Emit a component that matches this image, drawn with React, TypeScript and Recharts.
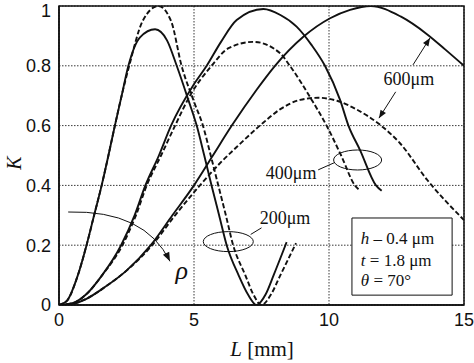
import React from "react";
import {
  LineChart,
  Line,
  XAxis,
  YAxis,
  CartesianGrid,
  ReferenceArea,
  ReferenceDot,
  ReferenceLine,
} from "recharts";

// ---- data (x = L [mm], y = K) ----
const xTicks = [0, 5, 10, 15];
const yTicks = [0, 0.2, 0.4, 0.6, 0.8, 1];

const k200Solid: [number, number][] = [
  [0, 0], [0.3, 0.015], [0.7, 0.1], [1.02, 0.2], [1.3, 0.3], [1.58, 0.4], [1.83, 0.5],
  [2.07, 0.6], [2.32, 0.7], [2.57, 0.8], [3.0, 0.895], [3.56, 0.922], [4.0, 0.885],
  [4.36, 0.8], [4.79, 0.686], [5.1, 0.6], [5.38, 0.5], [5.65, 0.4], [5.93, 0.3],
  [6.21, 0.2], [6.65, 0.1], [7.0, 0.035], [7.32, 0], [7.65, 0.035], [7.95, 0.1], [8.43, 0.21],
];
const k200Dashed: [number, number][] = [
  [0, 0], [0.3, 0.015], [0.7, 0.1], [1.02, 0.2], [1.3, 0.3], [1.58, 0.4], [1.83, 0.5],
  [2.07, 0.6], [2.32, 0.7], [2.6, 0.8], [3.1, 0.95], [3.68, 1.0], [4.15, 0.95],
  [4.54, 0.8], [5.0, 0.68], [5.33, 0.6], [5.62, 0.5], [5.9, 0.4], [6.18, 0.3],
  [6.45, 0.2], [6.9, 0.1], [7.2, 0.035], [7.5, 0], [7.85, 0.035], [8.2, 0.1], [8.78, 0.207],
];
const k400Solid: [number, number][] = [
  [0, 0], [0.5, 0.006], [1.0, 0.035], [1.6, 0.1], [2.3, 0.2], [2.8, 0.3], [3.2, 0.4],
  [3.7, 0.5], [4.15, 0.6], [4.98, 0.736], [5.47, 0.8], [6.0, 0.88], [6.58, 0.953],
  [7.57, 0.99], [8.2, 0.97], [8.8, 0.931], [9.35, 0.87], [9.85, 0.8], [10.41, 0.686],
  [10.72, 0.6], [11.15, 0.518], [11.74, 0.4], [11.95, 0.382],
];
const k400Dashed: [number, number][] = [
  [0, 0], [0.5, 0.006], [1.0, 0.035], [1.6, 0.1], [2.35, 0.2], [2.85, 0.3], [3.25, 0.4],
  [3.78, 0.5], [4.3, 0.6], [4.85, 0.7], [5.65, 0.8], [6.3, 0.86], [7.2, 0.88],
  [8.19, 0.842], [8.55, 0.8], [9.36, 0.686], [9.91, 0.6], [10.45, 0.5], [10.96, 0.4], [11.12, 0.385],
];
const k600Solid: [number, number][] = [
  [0, 0], [0.5, 0.004], [1.0, 0.02], [1.7, 0.06], [2.5, 0.115], [3.4, 0.2], [4.2, 0.3],
  [5.0, 0.4], [5.7, 0.5], [6.4, 0.6], [7.32, 0.72], [8.0, 0.8], [9.05, 0.897],
  [10.04, 0.959], [10.78, 0.987], [11.55, 1.0], [12.65, 0.965], [13.64, 0.905],
  [14.3, 0.855], [15, 0.8],
];
const k600Dashed: [number, number][] = [
  [0, 0], [0.5, 0.004], [1.0, 0.02], [1.7, 0.06], [2.5, 0.115], [3.45, 0.2], [4.3, 0.3],
  [5.22, 0.4], [5.96, 0.474], [6.6, 0.53], [7.44, 0.6], [8.2, 0.655], [8.93, 0.686],
  [9.6, 0.693], [10.3, 0.683], [11.0, 0.655], [11.9, 0.602], [12.63, 0.541],
  [13.64, 0.418], [15, 0.284],
];

const toRows = (pts: [number, number][]) => pts.map(([x, y]) => ({ x, y }));

const series = [
  { name: "200 solid", pts: k200Solid, dash: undefined },
  { name: "200 dashed", pts: k200Dashed, dash: "5 2.5" },
  { name: "400 solid", pts: k400Solid, dash: undefined },
  { name: "400 dashed", pts: k400Dashed, dash: "5 2.5" },
  { name: "600 solid", pts: k600Solid, dash: undefined },
  { name: "600 dashed", pts: k600Dashed, dash: "5 2.5" },
];

const INK = "#111";
const SERIF = "'Liberation Serif', 'Times New Roman', serif";
const SANS = "'Liberation Sans', Arial, sans-serif";

const arrowHead = (x1: number, y1: number, x2: number, y2: number, len = 8, hw = 3.2) => {
  const dx = x2 - x1;
  const dy = y2 - y1;
  const d = Math.hypot(dx, dy) || 1;
  const ux = dx / d;
  const uy = dy / d;
  const bx = x2 - ux * len;
  const by = y2 - uy * len;
  return `${x2},${y2} ${bx - uy * hw},${by + ux * hw} ${bx + uy * hw},${by - ux * hw}`;
};

const ArrowShape = (props: any) => {
  const { x1, y1, x2, y2 } = props;
  if ([x1, y1, x2, y2].some((v) => v == null || isNaN(v))) return null;
  return (
    <g>
      <line x1={x1} y1={y1} x2={x2} y2={y2} stroke={INK} strokeWidth={1} />
      <polygon points={arrowHead(x1, y1, x2, y2)} fill={INK} />
    </g>
  );
};

const LeaderShape = (props: any) => {
  const { x1, y1, x2, y2 } = props;
  if ([x1, y1, x2, y2].some((v) => v == null || isNaN(v))) return null;
  return <line x1={x1} y1={y1} x2={x2} y2={y2} stroke={INK} strokeWidth={1} />;
};

const RhoArc = (props: any) => {
  const { x1, y1, x2, y2 } = props;
  if ([x1, y1, x2, y2].some((v) => v == null || isNaN(v))) return null;
  const cx = x1 + 0.755 * (x2 - x1);
  const cy = y1 - 2;
  return (
    <g>
      <path d={`M${x1},${y1} Q${cx},${cy} ${x2},${y2}`} fill="none" stroke={INK} strokeWidth={1} />
      <polygon points={arrowHead(cx, cy, x2, y2, 9, 3.5)} fill={INK} />
    </g>
  );
};

const ellipseShape = (rx: number, ry: number) => (props: any) => {
  const { cx, cy } = props;
  if (cx == null || cy == null) return null;
  return <ellipse cx={cx} cy={cy} rx={rx} ry={ry} fill="none" stroke={INK} strokeWidth={1} />;
};

const textShape = (content: React.ReactNode, size: number, italic = false, anchor: "start" | "middle" = "middle") => (props: any) => {
  const { cx, cy } = props;
  if (cx == null || cy == null) return null;
  return (
    <text
      x={cx}
      y={cy}
      textAnchor={anchor}
      dominantBaseline="central"
      fontFamily={SERIF}
      fontSize={size}
      fontStyle={italic ? "italic" : "normal"}
      fill={INK}
    >
      {content}
    </text>
  );
};

export default function App() {
  return (
    <div style={{ position: "absolute", left: 0, top: 0, width: 474, height: 363, background: "#fff" }}>
      <LineChart width={474} height={363} margin={{ top: 6, right: 10, left: 0, bottom: 0 }}>
        <CartesianGrid stroke="#222" strokeDasharray="1.5 1.5" strokeWidth={0.9} />
        <XAxis
          type="number"
          dataKey="x"
          domain={[0, 15]}
          ticks={xTicks}
          allowDataOverflow
          height={58}
          tickLine={false}
          axisLine={{ stroke: INK, strokeWidth: 1.5 }}
          tick={{ fill: INK, fontSize: 18, fontFamily: SANS }}
          tickFormatter={(v: number) => String(v)}
        />
        <YAxis
          type="number"
          dataKey="y"
          domain={[0, 1]}
          ticks={yTicks}
          allowDataOverflow
          width={59}
          tickLine={false}
          axisLine={{ stroke: INK, strokeWidth: 1.5 }}
          tick={{ fill: INK, fontSize: 18, fontFamily: SANS }}
          tickFormatter={(v: number) => String(v)}
        />
        {/* frame */}
        <ReferenceArea x1={0} x2={15} y1={0} y2={1} fill="none" stroke={INK} strokeWidth={1.5} ifOverflow="visible" />

        {series.map((s) => (
          <Line
            key={s.name}
            data={toRows(s.pts)}
            dataKey="y"
            type="monotone"
            stroke={INK}
            strokeWidth={1.9}
            strokeDasharray={s.dash}
            dot={false}
            activeDot={false}
            isAnimationActive={false}
          />
        ))}

        {/* 600 µm annotation */}
        <ReferenceDot x={12.96} y={0.757} r={1} shape={textShape("600μm", 18)} />
        <ReferenceLine segment={[{ x: 13.11, y: 0.803 }, { x: 13.74, y: 0.893 }]} shape={ArrowShape} ifOverflow="visible" />
        <ReferenceLine segment={[{ x: 12.47, y: 0.713 }, { x: 11.85, y: 0.625 }]} shape={ArrowShape} ifOverflow="visible" />

        {/* 400 µm annotation */}
        <ReferenceDot x={8.6} y={0.44} r={1} shape={textShape("400μm", 18)} />
        <ReferenceLine segment={[{ x: 9.6, y: 0.452 }, { x: 10.2, y: 0.476 }]} shape={LeaderShape} ifOverflow="visible" />
        <ReferenceDot x={11.06} y={0.485} r={1} shape={ellipseShape(24, 10)} />

        {/* 200 µm annotation */}
        <ReferenceDot x={8.37} y={0.29} r={1} shape={textShape("200μm", 18)} />
        <ReferenceLine segment={[{ x: 7.5, y: 0.258 }, { x: 7.1, y: 0.236 }]} shape={LeaderShape} ifOverflow="visible" />
        <ReferenceDot x={6.27} y={0.212} r={1} shape={ellipseShape(25, 10)} />

        {/* rho arrow */}
        <ReferenceLine segment={[{ x: 0.34, y: 0.311 }, { x: 4.11, y: 0.146 }]} shape={RhoArc} ifOverflow="visible" />
        <ReferenceDot x={4.55} y={0.115} r={1} shape={textShape("ρ", 26, true)} />

        {/* parameter box */}
        <ReferenceArea x1={10.85} x2={14.56} y1={0.033} y2={0.291} fill="#fff" fillOpacity={1} stroke={INK} strokeWidth={1} />
        <ReferenceDot
          x={11.18}
          y={0.225}
          r={1}
          shape={textShape(
            <>
              <tspan fontStyle="italic">h</tspan>
              <tspan> – 0.4 μm</tspan>
            </>,
            17,
            false,
            "start"
          )}
        />
        <ReferenceDot
          x={11.18}
          y={0.152}
          r={1}
          shape={textShape(
            <>
              <tspan fontStyle="italic">t</tspan>
              <tspan> = 1.8 μm</tspan>
            </>,
            17,
            false,
            "start"
          )}
        />
        <ReferenceDot
          x={11.18}
          y={0.084}
          r={1}
          shape={textShape(
            <>
              <tspan fontStyle="italic">θ</tspan>
              <tspan> = 70°</tspan>
            </>,
            17,
            false,
            "start"
          )}
        />
      </LineChart>
      {/* axis titles */}
      <svg width={474} height={363} style={{ position: "absolute", left: 0, top: 0, pointerEvents: "none" }}>
        <text x={262} y={356} textAnchor="middle" fontFamily={SERIF} fontSize={21} fill={INK}>
          <tspan fontStyle="italic">L</tspan>
          <tspan> [mm]</tspan>
        </text>
        <text
          x={0}
          y={0}
          transform="translate(21,163) rotate(-90)"
          textAnchor="middle"
          fontFamily={SERIF}
          fontSize={20}
          fontStyle="italic"
          fill={INK}
        >
          K
        </text>
      </svg>
    </div>
  );
}
